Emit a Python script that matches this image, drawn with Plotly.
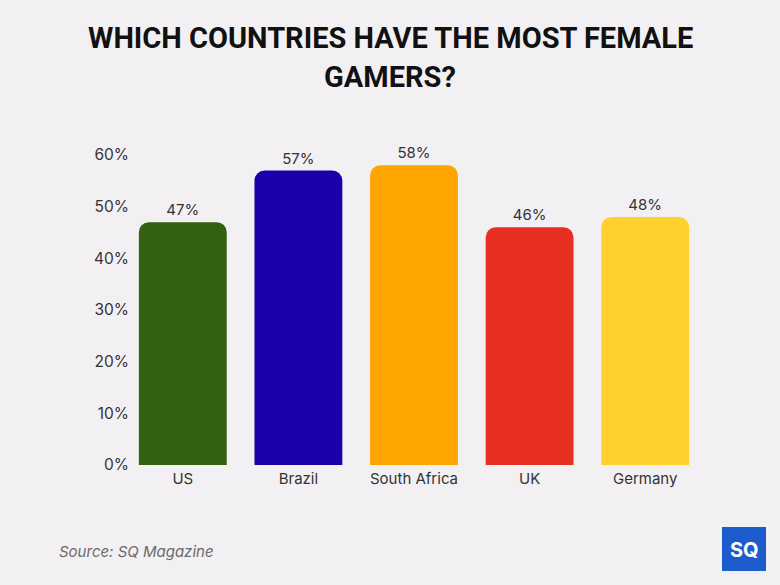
import plotly.graph_objects as go

countries = ["US", "Brazil", "South Africa", "UK", "Germany"]
values = [47, 57, 58, 46, 48]
colors = ["#336111", "#1a00a8", "#fea502", "#e83022", "#ffd12f"]
tick_vals = [0, 10, 20, 30, 40, 50, 60]
tick_text = ["0%", "10%", "20%", "30%", "40%", "50%", "60%"]
title_lines = ["WHICH COUNTRIES HAVE THE MOST FEMALE", "GAMERS?"]

W, H = 780, 585
L, R, T, B = 125, 77, 155, 120
PW, PH = W - L - R, H - T - B
FONT = "Inter"


def px(x):
    return (x - L) / PW


def py(y):
    return (H - B - y) / PH


fig = go.Figure()
fig.add_trace(go.Bar(
    x=countries, y=values,
    marker=dict(color=colors, cornerradius=10, line=dict(width=0)),
    text=[f"{v}%" for v in values],
    textposition="outside",
    textfont=dict(family=FONT, size=15, color="#333333"),
    cliponaxis=False,
    width=0.76,
))

fig.update_layout(
    width=W, height=H,
    margin=dict(l=L, r=R, t=T, b=B),
    paper_bgcolor="#f3f0f4",
    plot_bgcolor="rgba(0,0,0,0)",
    showlegend=False,
    xaxis=dict(
        showgrid=False, zeroline=False, showline=False,
        tickfont=dict(family=FONT, size=15, color="#333333"),
        ticks="", ticklabelstandoff=3,
    ),
    yaxis=dict(
        range=[0, 60], tickvals=tick_vals, ticktext=tick_text,
        showgrid=False, zeroline=False, showline=False,
        tickfont=dict(family=FONT, size=15.5, color="#333333"),
        ticks="", ticklabelstandoff=-5,
    ),
)

for i, (line, yc) in enumerate(zip(title_lines, [38, 77])):
    fig.add_annotation(
        text=f"<b>{line}</b>", xref="paper", yref="paper",
        x=px(390), y=py(yc), xanchor="center", yanchor="middle", showarrow=False,
        font=dict(family="Roboto", size=29, color="#111111", weight=900),
    )

fig.add_annotation(
    text="<i>Source: SQ Magazine</i>", xref="paper", yref="paper",
    x=px(57), y=py(551), xanchor="left", yanchor="middle", showarrow=False,
    font=dict(family=FONT, size=15, color="#6a6a6a"),
)

fig.add_shape(
    type="rect", xref="paper", yref="paper",
    x0=px(722), x1=px(766), y0=py(571), y1=py(527),
    fillcolor="#1d5ccc", line=dict(width=0), layer="above",
)
fig.add_annotation(
    text="<b>SQ</b>", xref="paper", yref="paper",
    x=px(744), y=py(550), xanchor="center", yanchor="middle", showarrow=False,
    font=dict(family=FONT, size=20, color="#ffffff"),
)

fig.write_html("out.html")
